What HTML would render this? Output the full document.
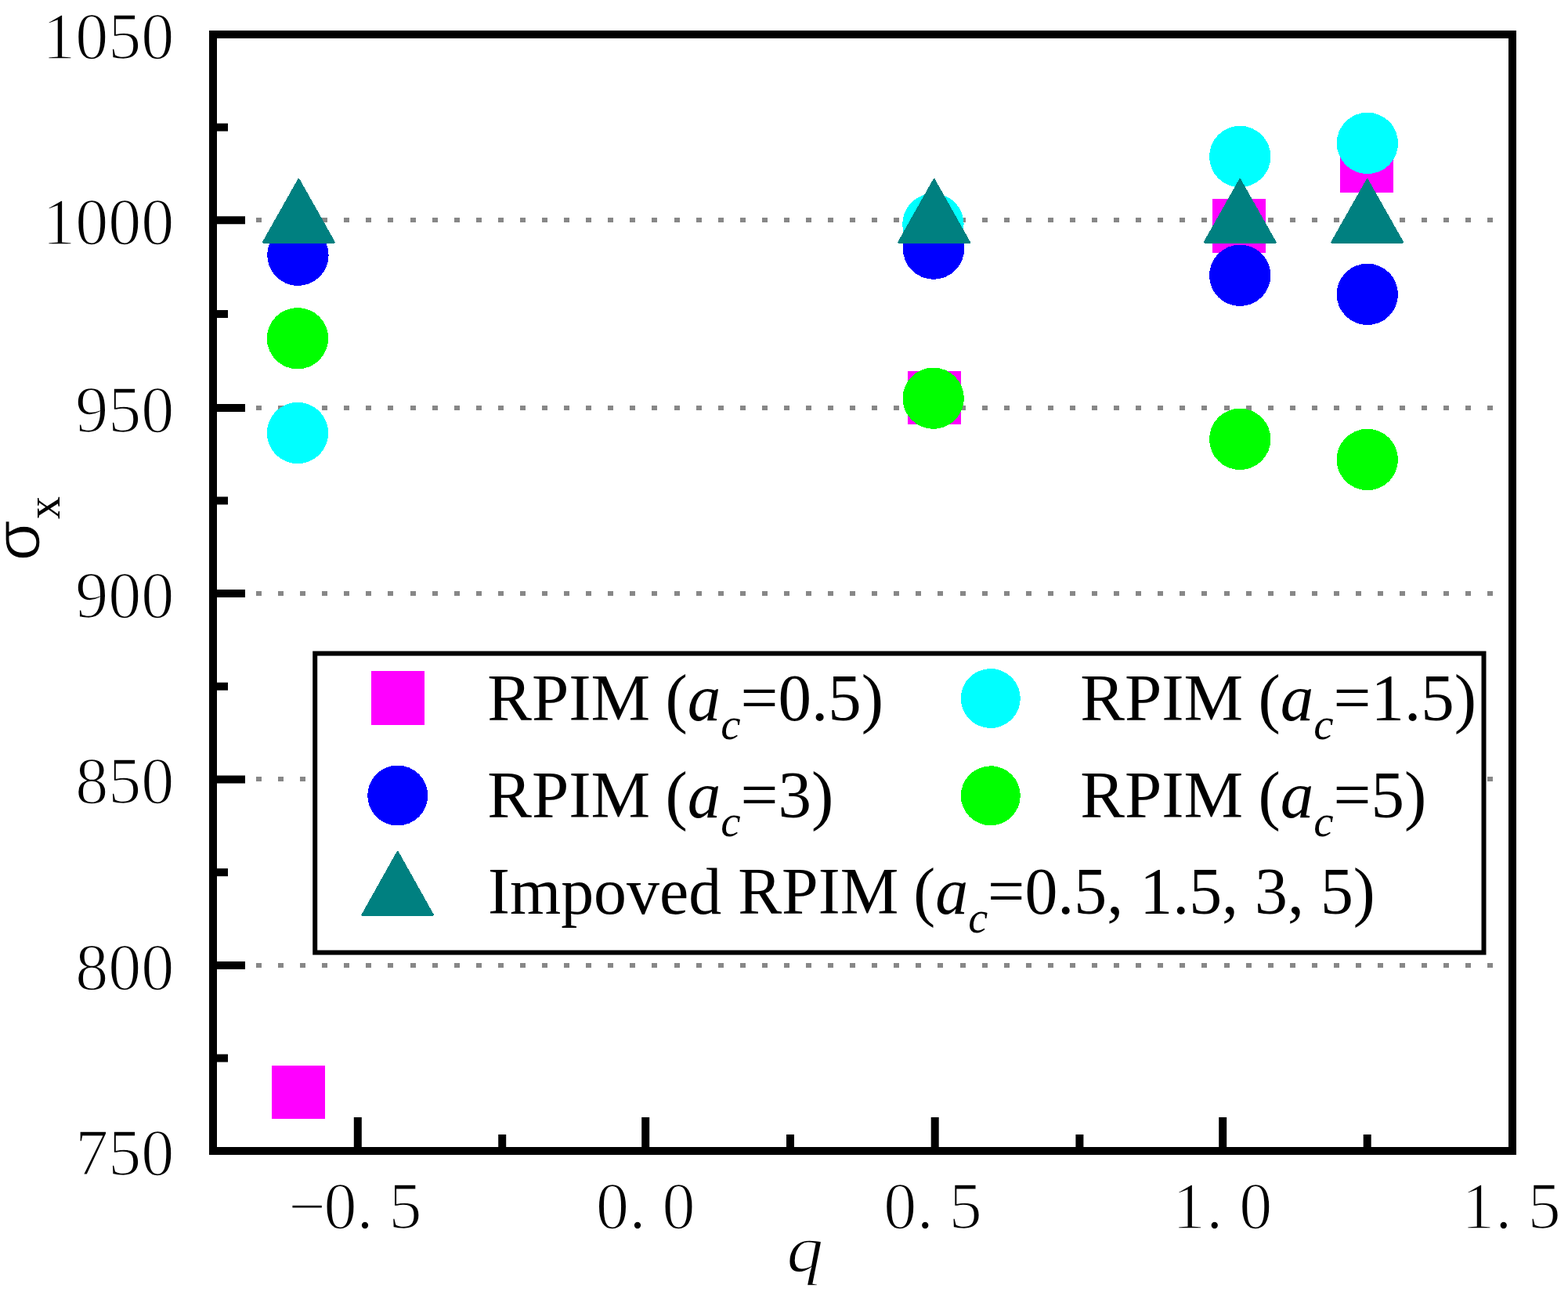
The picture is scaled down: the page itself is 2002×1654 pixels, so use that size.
<!DOCTYPE html><html><head><meta charset="utf-8"><title>sigma_x vs q</title>
<style>html,body{margin:0;padding:0;background:#fff;overflow:hidden}svg{display:block}</style></head><body>
<svg width="2002" height="1654" viewBox="0 0 2002 1654">
<rect width="2002" height="1654" fill="#fff"/>
<g stroke="#878787" stroke-width="6" stroke-dasharray="7 21.08" shape-rendering="crispEdges">
<line x1="327" y1="281.2" x2="1926" y2="281.2"/>
<line x1="327" y1="520.9" x2="1926" y2="520.9"/>
<line x1="327" y1="758" x2="1926" y2="758"/>
<line x1="327" y1="995.4" x2="1926" y2="995.4"/>
<line x1="327" y1="1233" x2="1926" y2="1233"/>
</g>
<rect x="347.10" y="1360.55" width="68.3" height="68.3" fill="#ff00ff" shape-rendering="crispEdges"/>
<rect x="1158.55" y="473.65" width="68.3" height="68.3" fill="#ff00ff" shape-rendering="crispEdges"/>
<rect x="1548.05" y="254.25" width="68.3" height="68.3" fill="#ff00ff" shape-rendering="crispEdges"/>
<rect x="1710.85" y="177.65" width="68.3" height="68.3" fill="#ff00ff" shape-rendering="crispEdges"/>
<circle cx="380" cy="553" r="39.2" fill="#00ffff" shape-rendering="crispEdges"/>
<circle cx="1191.4" cy="286.3" r="39.2" fill="#00ffff" shape-rendering="crispEdges"/>
<circle cx="1583.2" cy="200" r="39.2" fill="#00ffff" shape-rendering="crispEdges"/>
<circle cx="1745.9" cy="182.9" r="39.2" fill="#00ffff" shape-rendering="crispEdges"/>
<circle cx="380.4" cy="325.8" r="39.2" fill="#0000ff" shape-rendering="crispEdges"/>
<circle cx="1192" cy="317.6" r="39.2" fill="#0000ff" shape-rendering="crispEdges"/>
<circle cx="1583.2" cy="351.8" r="39.2" fill="#0000ff" shape-rendering="crispEdges"/>
<circle cx="1745.8" cy="375.9" r="39.2" fill="#0000ff" shape-rendering="crispEdges"/>
<circle cx="380" cy="432.2" r="39.2" fill="#00ff00" shape-rendering="crispEdges"/>
<circle cx="1191.7" cy="508.7" r="39.2" fill="#00ff00" shape-rendering="crispEdges"/>
<circle cx="1583.2" cy="560.9" r="39.2" fill="#00ff00" shape-rendering="crispEdges"/>
<circle cx="1745.8" cy="587" r="39.2" fill="#00ff00" shape-rendering="crispEdges"/>
<polygon points="381.40,228.70 335.90,309.50 426.90,309.50" fill="#008080" stroke="#008080" stroke-width="2" stroke-linejoin="round" shape-rendering="crispEdges"/>
<polygon points="1192.60,228.90 1147.10,309.70 1238.10,309.70" fill="#008080" stroke="#008080" stroke-width="2" stroke-linejoin="round" shape-rendering="crispEdges"/>
<polygon points="1583.20,229.00 1537.70,309.50 1628.70,309.50" fill="#008080" stroke="#008080" stroke-width="2" stroke-linejoin="round" shape-rendering="crispEdges"/>
<polygon points="1745.70,229.00 1700.20,309.50 1791.20,309.50" fill="#008080" stroke="#008080" stroke-width="2" stroke-linejoin="round" shape-rendering="crispEdges"/>
<rect x="272" y="44" width="1659" height="1426" fill="none" stroke="#000" stroke-width="10"/>
<g stroke="#000" stroke-width="10">
<line x1="272" y1="281.2" x2="313" y2="281.2"/>
<line x1="272" y1="520.9" x2="313" y2="520.9"/>
<line x1="272" y1="758" x2="313" y2="758"/>
<line x1="272" y1="995.4" x2="313" y2="995.4"/>
<line x1="272" y1="1233" x2="313" y2="1233"/>
<line x1="272" y1="162.6" x2="291" y2="162.6"/>
<line x1="272" y1="401.04999999999995" x2="291" y2="401.04999999999995"/>
<line x1="272" y1="639.45" x2="291" y2="639.45"/>
<line x1="272" y1="876.7" x2="291" y2="876.7"/>
<line x1="272" y1="1114.2" x2="291" y2="1114.2"/>
<line x1="272" y1="1351.5" x2="291" y2="1351.5"/>
<line x1="456.80" y1="1470" x2="456.80" y2="1427"/>
<line x1="824.20" y1="1470" x2="824.20" y2="1427"/>
<line x1="1193.70" y1="1470" x2="1193.70" y2="1427"/>
<line x1="1561.20" y1="1470" x2="1561.20" y2="1427"/>
<line x1="641.20" y1="1470" x2="641.20" y2="1449"/>
<line x1="1009.00" y1="1470" x2="1009.00" y2="1449"/>
<line x1="1378.40" y1="1470" x2="1378.40" y2="1449"/>
<line x1="1745.70" y1="1470" x2="1745.70" y2="1449"/>
</g>
<g font-family="Liberation Serif, serif" font-size="84" fill="#000" stroke="#fff" stroke-width="1.6" text-anchor="end">
<text x="222.2" y="75.0">1050</text>
<text x="222.2" y="312.2">1000</text>
<text x="222.2" y="551.9">950</text>
<text x="222.2" y="789.0">900</text>
<text x="222.2" y="1026.4">850</text>
<text x="222.2" y="1264.0">800</text>
<text x="222.2" y="1501.0">750</text>
</g>
<g font-family="Liberation Serif, serif" font-size="84" fill="#000" stroke="#fff" stroke-width="1.6">
<text x="368.5 413.5 455.5 476 496.45" y="1569.2" xml:space="preserve">−0. 5</text>
<text x="761 803.5 824 845.5" y="1569.2" xml:space="preserve">0. 0</text>
<text x="1128.25 1170.75 1191 1211.7" y="1569.2" xml:space="preserve">0. 5</text>
<text x="1496.9 1540.35 1561 1582.3" y="1569.2" xml:space="preserve">1. 0</text>
<text x="1866.35 1909.25 1930 1950.75" y="1569.2" xml:space="preserve">1. 5</text>
</g>
<text transform="translate(1004.4,1624.3) scale(1.1,1)" font-family="Liberation Serif, serif" font-style="italic" font-size="84.6" stroke="#fff" stroke-width="1.4">q</text>
<text transform="translate(50.1,716.6) rotate(-90) scale(1.045,1)" font-family="Liberation Sans, sans-serif" font-size="81" stroke="#fff" stroke-width="1.2">σ</text>
<text transform="translate(75.6,663.0) rotate(-90) scale(0.95,1)" font-family="Liberation Serif, serif" font-size="61">x</text>
<rect x="402.2" y="834.6" width="1492.3" height="382" fill="#fff" stroke="#000" stroke-width="6"/>
<rect x="473.75" y="857.45" width="68.3" height="68.3" fill="#ff00ff" shape-rendering="crispEdges"/>
<circle cx="1264.8" cy="892" r="38" fill="#00ffff" shape-rendering="crispEdges"/>
<circle cx="507.7" cy="1016" r="38.5" fill="#0000ff" shape-rendering="crispEdges"/>
<circle cx="1264.8" cy="1016.3" r="38" fill="#00ff00" shape-rendering="crispEdges"/>
<polygon points="507.70,1087.70 462.45,1168.50 552.95,1168.50" fill="#008080" stroke="#008080" stroke-width="2" stroke-linejoin="round" shape-rendering="crispEdges"/>
<text transform="translate(622.35,919.7) scale(1,1)" font-family="Liberation Serif, serif" font-size="85" xml:space="preserve">RPIM <tspan dx="-2">(</tspan><tspan font-style="italic">a</tspan><tspan font-style="italic" font-size="57" dy="24">c</tspan><tspan dy="-24">=0.5)</tspan></text>
<text transform="translate(1379.35,919.7) scale(1,1)" font-family="Liberation Serif, serif" font-size="85" xml:space="preserve">RPIM <tspan dx="-2">(</tspan><tspan font-style="italic">a</tspan><tspan font-style="italic" font-size="57" dy="24">c</tspan><tspan dy="-24">=1.5)</tspan></text>
<text transform="translate(622.35,1043.9) scale(1,1)" font-family="Liberation Serif, serif" font-size="85" xml:space="preserve">RPIM <tspan dx="-2">(</tspan><tspan font-style="italic">a</tspan><tspan font-style="italic" font-size="57" dy="24">c</tspan><tspan dy="-24">=3)</tspan></text>
<text transform="translate(1379.35,1043.9) scale(1,1)" font-family="Liberation Serif, serif" font-size="85" xml:space="preserve">RPIM <tspan dx="-2">(</tspan><tspan font-style="italic">a</tspan><tspan font-style="italic" font-size="57" dy="24">c</tspan><tspan dy="-24">=5)</tspan></text>
<text transform="translate(623.0,1167.2) scale(0.987,1)" font-family="Liberation Serif, serif" font-size="85" xml:space="preserve">Impoved RPIM <tspan dx="-2">(</tspan><tspan font-style="italic">a</tspan><tspan font-style="italic" font-size="57" dy="24">c</tspan><tspan dy="-24">=0.5, 1.5, 3, 5)</tspan></text>
</svg></body></html>
